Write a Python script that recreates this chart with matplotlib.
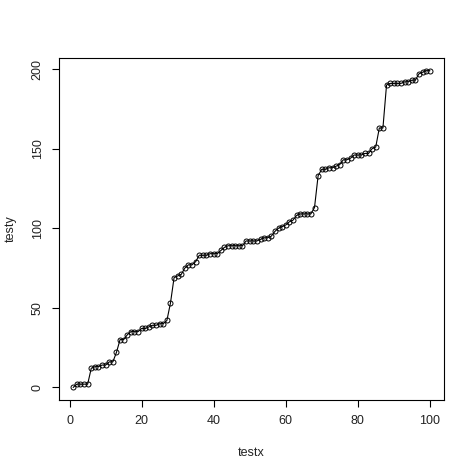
import matplotlib
matplotlib.use("Agg")
import matplotlib.pyplot as plt
import numpy as np

# values (x = 1..100)
testx = np.arange(1, 101)
testy = [0, 2, 2, 2, 2, 12, 13, 13, 14, 14,
         16, 16, 22, 30, 30, 33, 35, 35, 35, 37,
         37, 38, 39, 39, 40, 40, 42, 53, 69, 70,
         71, 75, 77, 77, 79, 83, 83, 83, 84, 84,
         84, 86, 88, 89, 89, 89, 89, 89, 92, 92,
         92, 92, 93, 94, 94, 95, 98, 100, 101, 102,
         104, 105, 108, 109, 109, 109, 109, 113, 133, 137,
         137, 138, 138, 139, 140, 143, 143, 144, 146, 146,
         146, 147, 147, 150, 151, 163, 163, 190, 191, 191,
         191, 191, 192, 192, 193, 193, 197, 198, 199, 199]
xticks = [0, 20, 40, 60, 80, 100]
yticks = [0, 50, 100, 150, 200]

plt.rcParams['font.family'] = ['Liberation Sans', 'DejaVu Sans']

fig = plt.figure(figsize=(4.74, 4.74), dpi=100)
ax = fig.add_axes([59 / 474, 74 / 474, 385 / 474, 342 / 474])

ax.plot(testx, testy, color='black', linewidth=0.8,
        marker='o', markersize=3.6, markerfacecolor='none',
        markeredgecolor='black', markeredgewidth=0.7)

# R style 4% padding
xr = max(testx) - min(testx)
yr = max(testy) - min(testy)
ax.set_xlim(min(testx) - 0.04 * xr, max(testx) + 0.04 * xr)
ax.set_ylim(min(testy) - 0.04 * yr, max(testy) + 0.04 * yr)

ax.set_xticks(xticks)
ax.set_yticks(yticks)
ax.set_yticklabels([str(t) for t in yticks], rotation=90, va='center')
ax.tick_params(direction='out', length=5, width=0.8, labelsize=9,
               pad=6, labelcolor='#222222')

for s in ax.spines.values():
    s.set_linewidth(0.8)

ax.set_xlabel('testx', fontsize=9, labelpad=14, color='#222222')
ax.set_ylabel('testy', fontsize=9, labelpad=11, color='#222222')

plt.savefig('out.png', dpi=100, facecolor='white')
